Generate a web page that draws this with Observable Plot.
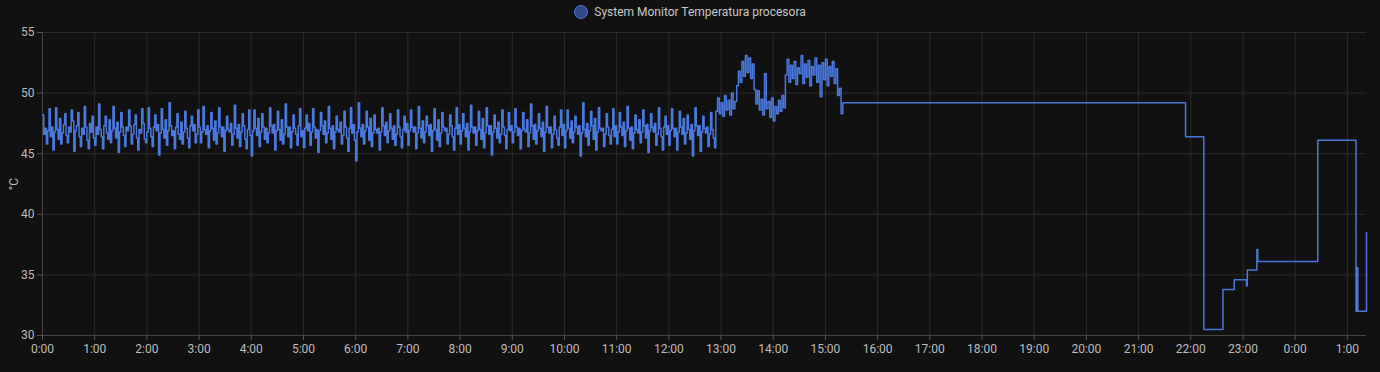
<!DOCTYPE html>
<html><head><meta charset="utf-8">
<script src="https://cdn.jsdelivr.net/npm/d3@7"></script>
<script src="https://cdn.jsdelivr.net/npm/@observablehq/plot@0.6"></script>
<style>
html,body{margin:0;padding:0;background:#111111;}
body{width:1380px;height:372px;overflow:hidden;font-family:Roboto,sans-serif;}
#legend{height:24px;display:flex;align-items:center;justify-content:center;color:#c8c8c8;font-size:12px;}
.sw{display:inline-block;width:12px;height:12px;border-radius:50%;background:#33488c;border:1.5px solid #4a78db;margin-right:6px;}
</style></head><body>
<div id="legend"><span class="sw"></span><span>System Monitor Temperatura procesora</span></div>
<div id="chart"></div>
<script>
// Noisy section: one reading every 1.5 minutes from 0:00 to 12:54
const noiseStartMin = 0;
const noiseStepMin = 1.5;
const noiseTemps = [
  48.2,46.6,47.1,45.8,46.9,48.7,46.4,47.2,45.3,46.8,48.8,47.0,46.2,47.9,45.8,46.7,47.4,48.3,46.5,45.9,47.2,46.8,48.6,47.7,45.2,46.9,47.3,48.4,46.4,45.6,47.1,46.6,48.9,47.2,46.1,45.4,47.5,46.8,48.1,46.3,
  45.7,47.2,46.6,49.1,47.0,46.4,45.4,47.3,48.1,46.7,46.2,47.8,45.9,46.9,48.9,47.1,46.3,47.6,45.1,46.8,48.4,47.2,46.5,45.6,47.2,46.9,48.6,47.3,45.8,46.6,47.4,48.2,46.3,45.3,47.0,46.7,48.7,47.5,46.2,45.9,
  46.8,48.8,47.1,46.4,45.6,47.2,48.2,46.9,47.4,44.9,46.7,48.7,47.0,46.3,47.8,45.7,46.9,49.2,47.3,46.5,46.9,45.4,47.2,48.3,46.6,46.2,47.6,45.8,46.8,48.5,47.1,46.3,45.5,47.3,48.1,46.9,47.4,45.9,46.6,48.6,
  47.2,45.9,46.8,48.9,47.0,46.6,47.3,45.5,46.9,48.4,47.1,46.1,47.7,45.8,46.7,48.8,47.2,46.4,47.2,45.2,46.9,48.1,47.0,46.8,47.5,45.7,46.6,49.0,47.1,46.3,47.4,45.6,46.8,48.3,47.3,46.2,45.4,47.0,48.6,46.5,
  44.8,46.9,48.6,47.1,46.5,47.9,45.6,46.8,48.3,47.2,46.2,47.1,45.9,46.7,48.8,47.3,46.7,47.4,45.3,46.9,48.5,47.0,46.1,47.8,45.8,46.6,49.1,47.2,46.4,47.2,45.5,46.8,48.2,47.1,46.6,45.7,47.3,48.7,46.4,46.9,
  45.5,47.1,48.2,46.9,47.5,45.7,46.8,48.7,47.2,46.3,47.0,45.1,46.9,48.4,47.3,46.6,47.7,45.9,46.7,48.9,47.1,46.2,47.3,45.4,46.8,48.1,47.0,46.8,47.6,45.8,46.5,48.5,47.2,46.3,45.2,47.1,48.8,46.7,47.4,46.1,
  44.4,46.8,49.2,47.1,46.4,47.4,45.8,46.9,48.5,47.2,46.1,47.9,45.6,46.7,48.2,47.0,46.7,47.1,45.3,46.8,48.8,47.3,46.5,47.6,45.9,46.9,48.3,47.1,46.2,47.3,45.7,46.6,48.6,47.2,46.4,45.5,47.0,48.1,46.8,47.5,
  45.7,46.9,48.6,47.2,46.8,47.2,45.4,46.7,48.9,47.1,46.3,47.7,45.9,46.8,48.1,47.3,46.5,47.4,45.2,46.9,48.7,47.0,46.1,47.8,45.6,46.7,48.4,47.2,46.9,47.1,45.8,46.6,48.2,47.3,46.4,45.3,47.1,48.8,46.6,47.4,
  45.8,46.9,48.3,47.1,46.4,47.5,45.3,46.8,49.0,47.2,46.7,47.2,45.7,46.9,48.5,47.0,46.2,47.9,45.5,46.7,48.8,47.3,46.6,47.3,44.9,46.8,48.2,47.1,46.3,47.6,45.9,46.6,48.6,47.2,46.5,45.4,47.0,48.4,46.9,47.3,
  45.9,46.8,48.7,47.2,46.5,47.1,45.4,46.9,48.4,47.0,46.8,47.8,45.6,46.7,49.1,47.3,46.2,47.4,45.8,46.9,48.3,47.1,46.4,47.6,45.2,46.8,48.9,47.2,46.7,47.2,45.5,46.6,48.1,47.0,46.3,45.7,47.2,48.6,46.5,47.4,
  45.5,46.9,48.6,47.1,46.3,47.7,45.9,46.8,48.1,47.2,46.6,47.3,44.8,46.7,49.2,47.0,46.4,47.5,45.7,46.9,48.5,47.3,46.2,47.9,45.3,46.8,48.8,47.1,46.9,47.1,45.6,46.6,48.3,47.2,46.5,45.8,47.0,48.7,46.4,47.3,
  45.8,46.8,48.4,47.2,46.5,47.6,45.6,46.9,48.9,47.1,46.1,47.2,45.4,46.7,48.2,47.0,46.7,47.8,45.9,46.8,48.6,47.3,46.3,47.4,45.1,46.9,48.3,47.2,46.8,47.5,45.7,46.6,48.8,47.1,46.4,45.3,47.2,48.1,46.6,47.3,
  45.7,46.9,48.7,47.1,46.4,47.1,45.3,46.8,48.5,47.2,46.6,47.9,45.8,46.7,48.2,47.0,46.2,47.4,44.8,46.9,48.8,47.3,46.5,47.3,45.2,46.8,48.1,47.1,46.7,47.2,45.6,46.6,48.4,47.0,46.3,45.5,46.8
];
// Busy section: one reading every 2 minutes from 12:54 to 15:18
const peakStartMin = 12 * 60 + 54;
const peakStepMin = 2;
const peakTemps = [
  48.5,49.6,48.3,49.2,48.1,49.8,48.6,49.4,48.2,50.0,48.7,49.3,
  50.6,51.8,50.9,52.6,51.4,53.1,51.7,52.9,51.2,52.4,
  50.3,49.1,50.2,48.6,49.5,48.2,51.6,48.7,49.3,48.0,49.6,47.7,48.9,48.3,49.4,48.5,49.8,48.8,
  51.5,52.8,50.9,52.3,51.2,52.6,50.7,52.1,51.6,53.1,50.8,52.4,51.3,52.7,50.6,52.2,51.5,52.9,50.9,52.3,
  49.7,52.5,51.1,52.8,50.6,52.2,51.4,52.6,50.8,52.0,
  49.8,50.4,48.3
];
// Sparse section (hours past 24 are the next day)
const stepTimes = ["15:20","21:54","22:15","22:37","22:50","23:04","23:05","23:16","23:17","24:26","25:10","25:11","25:12","25:22"];
const stepTemps = [49.2, 46.4, 30.5, 33.8, 34.6, 34.1, 35.4, 37.1, 36.1, 46.1, 32.0, 35.6, 32.0, 38.5];
const domainStart = "0:00";
const domainEnd = "25:22";
const yTicks = [30, 35, 40, 45, 50, 55];
const yDomain = [30, 55];

const base = Date.UTC(2024, 0, 1);
const atMin = m => new Date(base + m * 60000);
const parse = s => { const [h, m] = s.split(":").map(Number); return atMin(h * 60 + m); };

const data = [];
noiseTemps.forEach((v, i) => {
  const m = noiseStartMin + i * noiseStepMin;
  if (m < peakStartMin) data.push({time: atMin(m), temp: v});
});
peakTemps.forEach((v, i) => data.push({time: atMin(peakStartMin + i * peakStepMin), temp: v}));
stepTimes.forEach((s, i) => data.push({time: parse(s), temp: stepTemps[i]}));

const x0 = parse(domainStart), x1 = parse(domainEnd);
const hourTicks = d3.utcHour.range(x0, new Date(+x1 + 1));
const fmt = d => `${d.getUTCHours()}:00`;

const chart = Plot.plot({
  width: 1380, height: 348,
  marginLeft: 42, marginRight: 14, marginTop: 8, marginBottom: 37,
  style: {background: "#111111", color: "#bdbdbd", fontFamily: "Roboto, sans-serif", fontSize: "12px"},
  x: {type: "utc", domain: [x0, x1], label: null},
  y: {domain: yDomain, label: "°C"},
  marks: [
    Plot.gridX(hourTicks, {stroke: "#2b2b2b", strokeOpacity: 1}),
    Plot.gridY(yTicks, {stroke: "#2b2b2b", strokeOpacity: 1}),
    Plot.ruleY([yDomain[0]], {stroke: "#444444"}),
    Plot.ruleX([x0], {stroke: "#444444"}),
    Plot.axisX({ticks: hourTicks, tickFormat: fmt, tickSize: 5, tickPadding: 4, stroke: "#555", color: "#bdbdbd", label: null}),
    Plot.axisY({ticks: yTicks, tickSize: 5, tickPadding: 3, stroke: "#555", color: "#bdbdbd", label: "°C", labelAnchor: "center", labelArrow: "none", labelOffset: 33}),
    Plot.lineY(data, {x: "time", y: "temp", curve: "step-after", stroke: "#4a78db", strokeWidth: 1.5})
  ]
});
document.getElementById("chart").appendChild(chart);
</script>
</body></html>
